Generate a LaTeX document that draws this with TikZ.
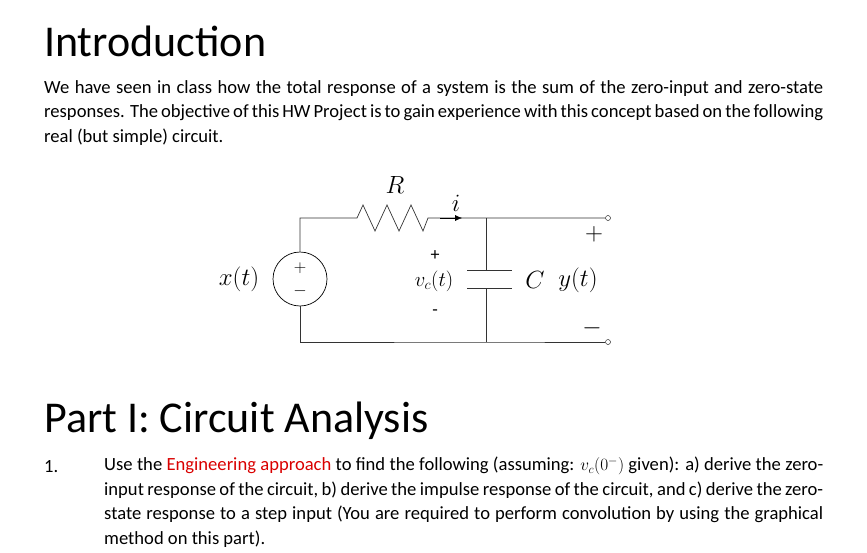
\documentclass[tikz,border=0pt]{standalone}
\usepackage{fontspec}
\setmainfont{Carlito}
\usepackage{amsmath}
\usetikzlibrary{arrows.meta,decorations.markings}
\begin{document}
\begin{tikzpicture}[x=1pt,y=-1pt,
  title/.style={anchor=base west,inner sep=0,font=\fontsize{44}{48}\selectfont},
  para/.style={anchor=north west,inner sep=0,text width=779pt,align=justify,font=\fontsize{18.6}{24.5}\selectfont},
  wire/.style={line width=0.7pt,black!80},
  lab/.style={inner sep=0,font=\fontsize{26}{28}\selectfont}]
\useasboundingbox (0,0) rectangle (867,552);
\node[title] (t1) at (44,56) {Introduction};
\node[para] (p1) at (44,80) {We have seen in class how the total response of a system is the sum of the zero-input and zero-state responses. The objective of this HW Project is to gain experience with this concept based on the following real (but simple) circuit.\par};
% circuit
\coordinate (tl) at (300,218);
\coordinate (bl) at (300,342);
\node[draw,circle,minimum size=54pt,inner sep=0,line width=0.7pt] (src) at (300,279) {};
\node[lab,font=\fontsize{18}{18}\selectfont] at (300,268) {$+$};
\node[lab,font=\fontsize{18}{18}\selectfont] at (300,291) {$-$};
\coordinate (r1) at (357,218);
\coordinate (r2) at (428,218);
\coordinate (cap) at (486,218);
\coordinate (capb) at (486,342);
\coordinate (ct) at (486,270);
\coordinate (cb) at (486,288);
\node[draw,circle,inner sep=0,minimum size=5pt,fill=white] (o1) at (608,218) {};
\node[draw,circle,inner sep=0,minimum size=5pt,fill=white] (o2) at (608,342) {};
\draw[wire] (src.north) -- (tl) -- (r1)
  -- ++(6,-13) -- ++(12,26) -- ++(12,-26) -- ++(12,26) -- ++(12,-26) -- ++(12,26) -- (r2) -- (cap) -- (o1);
\draw[wire] (src.south) -- (bl) -- (capb) -- (o2);
\draw[wire] (cap) -- (ct) (cb) -- (capb);
\draw[wire,line width=1pt] (467,270) -- (512,270) (467,288) -- (512,288);
\draw[-{Latex[length=7pt,width=6pt]}] (440,218) -- (462,218);
\node[lab] at (395,185) {$R$};
\node[lab] at (456,203) {$i$};
\node[lab] at (239,279) {$x(t)$};
\node[lab] at (535,280) {$C$};
\node[lab] at (578,280) {$y(t)$};
\node[lab] at (594,234) {$+$};
\node[lab] at (592,328) {$-$};
\node[lab,font=\fontsize{18}{18}\selectfont] at (435,256) {+};
\node[lab,font=\fontsize{21}{22}\selectfont] at (434,281) {$v_c(t)$};
\node[lab,font=\fontsize{18}{18}\selectfont] at (435,313) {-};
\node[title] (t2) at (44,432) {Part I: Circuit Analysis};
\node[anchor=base west,inner sep=0,font=\fontsize{18.6}{24.5}\selectfont] (n1) at (44,472) {1.};
\node[para,text width=719pt] (p2) at (104,457) {Use the {\color{red!85!black}Engineering approach} to find the following (assuming: $v_c(0^-)$ given): a) derive the zero-input response of the circuit, b) derive the impulse response of the circuit, and c) derive the zero-state response to a step input (You are required to perform convolution by using the graphical method on this part).\par};
\end{tikzpicture}
\end{document}
